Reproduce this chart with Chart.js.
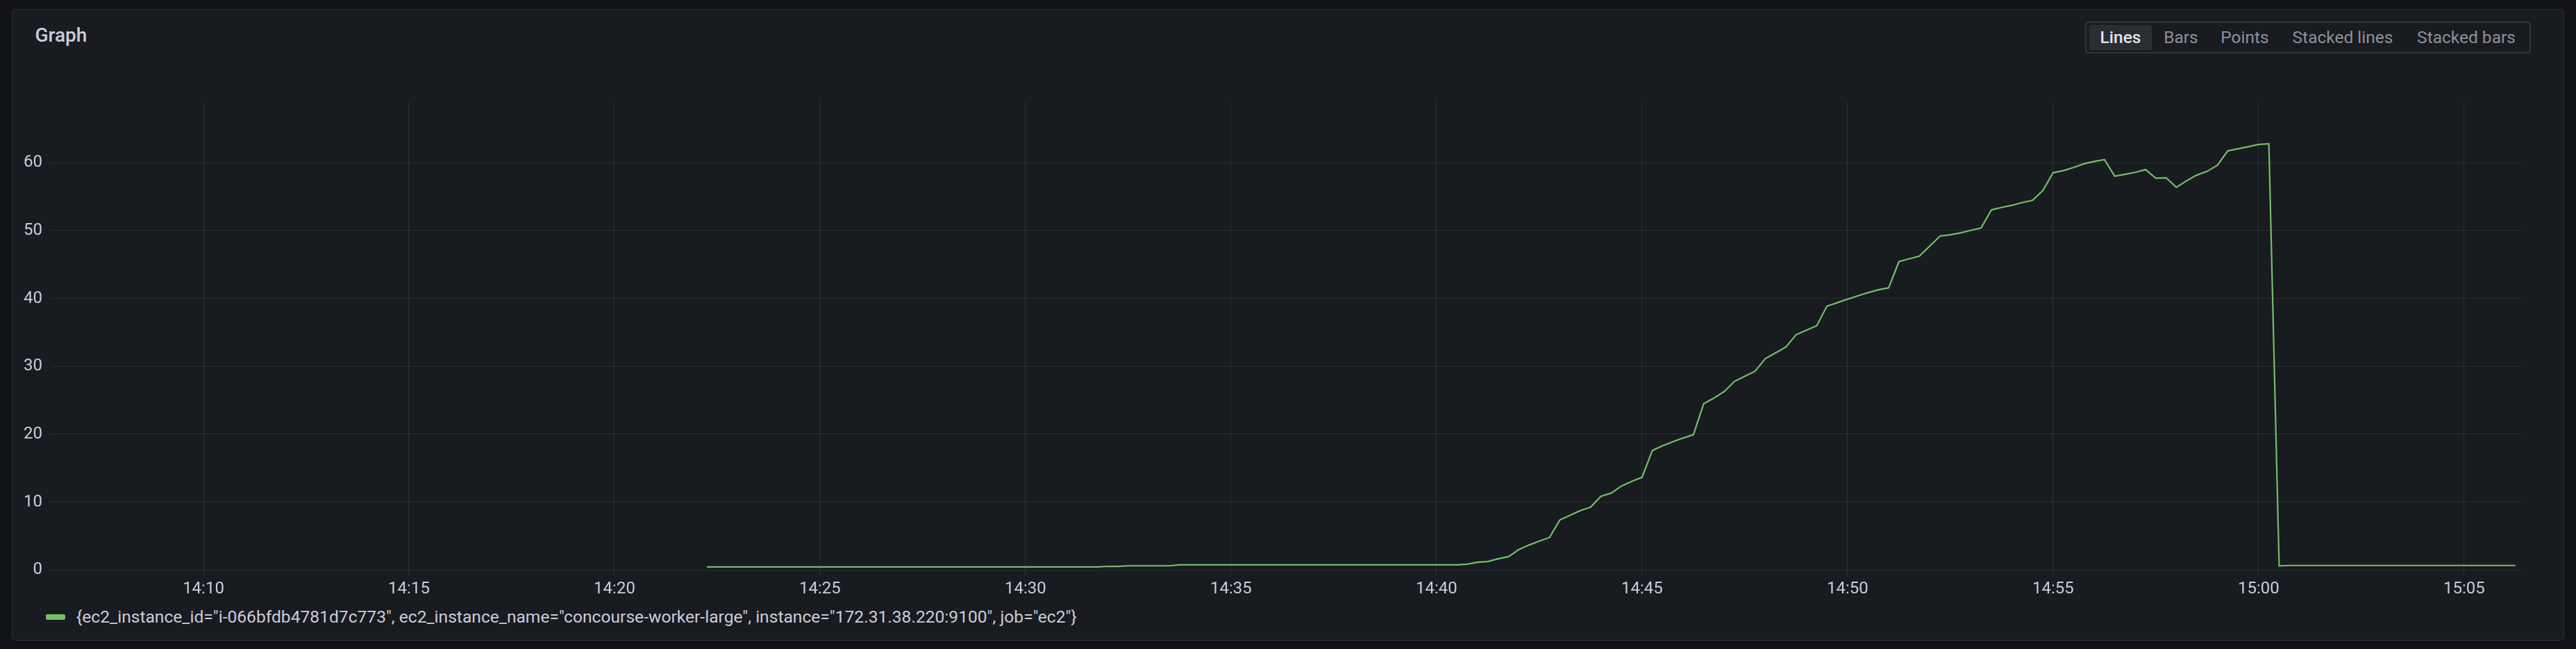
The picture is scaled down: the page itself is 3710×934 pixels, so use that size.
<!DOCTYPE html>
<html>
<head>
<meta charset="utf-8">
<script src="https://cdn.jsdelivr.net/npm/chart.js@4.4.1/dist/chart.umd.min.js"></script>
<style>
  html, body { margin:0; padding:0; width:3710px; height:934px; overflow:hidden; background:#111217; font-family: Roboto, "Noto Sans", sans-serif; }
  #panel { position:absolute; left:16.5px; top:12.5px; width:3676px; height:909px; background:#181b1f; border:1px solid rgba(204,204,220,0.12); border-radius:6px; box-sizing:border-box; }
  #title { position:absolute; left:50.5px; top:37px; font-size:28px; line-height:28px; font-weight:500; color:#ccccdc; white-space:nowrap; }
  #btns { position:absolute; left:3003px; top:31px; width:642px; height:46px; border:2px solid rgba(204,204,220,0.14); border-radius:4px; box-sizing:border-box; }
  #active { position:absolute; left:3009px; top:36px; width:90px; height:36px; background:rgba(204,204,220,0.10); border-radius:3px; }
  .btn { position:absolute; top:40px; font-size:24.5px; line-height:28px; color:rgba(204,204,220,0.68); white-space:nowrap; transform:translateX(-50%); }
  .btn.on { color:#e4e4ee; font-weight:500; }
  #wrap { position:absolute; left:0; top:120px; width:3710px; height:750px; }
  #swatch { position:absolute; left:66px; top:884px; width:28px; height:8px; border-radius:2px; background:#73bf69; }
  #legtext { position:absolute; left:110px; top:874px; font-size:24.6px; line-height:28px; color:#ccccdc; white-space:nowrap; }
</style>
</head>
<body>
<div id="panel"></div>
<div id="title">Graph</div>
<div id="btns"></div>
<div id="active"></div>
<div class="btn on" style="left:3054px">Lines</div>
<div class="btn" style="left:3141px">Bars</div>
<div class="btn" style="left:3233px">Points</div>
<div class="btn" style="left:3374px">Stacked lines</div>
<div class="btn" style="left:3552px">Stacked bars</div>
<div id="wrap"><canvas id="c"></canvas></div>
<div id="swatch"></div>
<div id="legtext"></div>
<script>
// ---- data ----
const seriesName = '{ec2_instance_id="i-066bfdb4781d7c773", ec2_instance_name="concourse-worker-large", instance="172.31.38.220:9100", job="ec2"}';

const times = [
  "14:22:15","14:22:30","14:22:45",
  "14:23:00","14:23:15","14:23:30","14:23:45",
  "14:24:00","14:24:15","14:24:30","14:24:45",
  "14:25:00","14:25:15","14:25:30","14:25:45",
  "14:26:00","14:26:15","14:26:30","14:26:45",
  "14:27:00","14:27:15","14:27:30","14:27:45",
  "14:28:00","14:28:15","14:28:30","14:28:45",
  "14:29:00","14:29:15","14:29:30","14:29:45",
  "14:30:00","14:30:15","14:30:30","14:30:45",
  "14:31:00","14:31:15","14:31:30","14:31:45",
  "14:32:00","14:32:15","14:32:30","14:32:45",
  "14:33:00","14:33:15","14:33:30","14:33:45",
  "14:34:00","14:34:15","14:34:30","14:34:45",
  "14:35:00","14:35:15","14:35:30","14:35:45",
  "14:36:00","14:36:15","14:36:30","14:36:45",
  "14:37:00","14:37:15","14:37:30","14:37:45",
  "14:38:00","14:38:15","14:38:30","14:38:45",
  "14:39:00","14:39:15","14:39:30","14:39:45",
  "14:40:00","14:40:15","14:40:30","14:40:45",
  "14:41:00","14:41:15","14:41:30","14:41:45",
  "14:42:00","14:42:15","14:42:30","14:42:45",
  "14:43:00","14:43:15","14:43:30","14:43:45",
  "14:44:00","14:44:15","14:44:30","14:44:45",
  "14:45:00","14:45:15","14:45:30","14:45:45",
  "14:46:00","14:46:15","14:46:30","14:46:45",
  "14:47:00","14:47:15","14:47:30","14:47:45",
  "14:48:00","14:48:15","14:48:30","14:48:45",
  "14:49:00","14:49:15","14:49:30","14:49:45",
  "14:50:00","14:50:15","14:50:30","14:50:45",
  "14:51:00","14:51:15","14:51:30","14:51:45",
  "14:52:00","14:52:15","14:52:30","14:52:45",
  "14:53:00","14:53:15","14:53:30","14:53:45",
  "14:54:00","14:54:15","14:54:30","14:54:45",
  "14:55:00","14:55:15","14:55:30","14:55:45",
  "14:56:00","14:56:15","14:56:30","14:56:45",
  "14:57:00","14:57:15","14:57:30","14:57:45",
  "14:58:00","14:58:15","14:58:30","14:58:45",
  "14:59:00","14:59:15","14:59:30","14:59:45",
  "15:00:00","15:00:15","15:00:30","15:00:45",
  "15:01:00","15:01:15","15:01:30","15:01:45",
  "15:02:00","15:02:15","15:02:30","15:02:45",
  "15:03:00","15:03:15","15:03:30","15:03:45",
  "15:04:00","15:04:15","15:04:30","15:04:45",
  "15:05:00","15:05:15","15:05:30","15:05:45",
  "15:06:00","15:06:15"
];

const values = [
  0.46,0.46,0.46,
  0.46,0.46,0.46,0.46,
  0.46,0.46,0.46,0.46,
  0.46,0.46,0.46,0.46,
  0.46,0.46,0.46,0.46,
  0.46,0.46,0.46,0.46,
  0.46,0.46,0.46,0.46,
  0.46,0.46,0.46,0.46,
  0.46,0.46,0.46,0.46,
  0.46,0.46,0.46,0.46,
  0.54,0.54,0.62,0.62,
  0.62,0.62,0.62,0.76,
  0.76,0.76,0.76,0.76,
  0.76,0.76,0.76,0.76,
  0.76,0.76,0.76,0.76,
  0.76,0.76,0.76,0.76,
  0.76,0.76,0.76,0.76,
  0.76,0.76,0.76,0.76,
  0.76,0.76,0.76,0.87,
  1.15,1.25,1.65,1.96,
  3.0,3.68,4.26,4.8,
  7.37,8.08,8.76,9.27,
  10.86,11.33,12.38,13.06,
  13.67,17.6,18.3,18.9,
  19.45,19.93,24.5,25.34,
  26.3,27.8,28.55,29.3,
  31.15,32.0,32.85,34.68,
  35.33,36.0,38.88,39.39,
  39.9,40.4,40.87,41.28,
  41.58,45.44,45.85,46.25,
  47.75,49.2,49.4,49.67,
  50.05,50.39,53.06,53.43,
  53.74,54.14,54.48,55.9,
  58.54,58.84,59.32,59.86,
  60.2,60.47,58.03,58.3,
  58.6,59.0,57.73,57.8,
  56.38,57.36,58.2,58.74,
  59.66,61.76,62.06,62.37,
  62.7,62.8,0.6,0.67,
  0.67,0.67,0.67,0.67,
  0.67,0.67,0.67,0.67,
  0.67,0.67,0.67,0.67,
  0.67,0.67,0.67,0.67,
  0.67,0.67,0.67,0.67,
  0.67,0.67
];

const xTickLabels = ["14:10","14:15","14:20","14:25","14:30","14:35","14:40","14:45","14:50","14:55","15:00","15:05"];
const yTickValues = [0,10,20,30,40,50,60];
const xRange = ["14:06:17","15:06:25"];
const yRange = [0, 69];

// ---- helpers ----
function toSec(s) { const p = s.split(':').map(Number); return p[0]*3600 + p[1]*60 + (p[2]||0); }
function fmt(v) { const h = Math.floor(v/3600), m = Math.round((v - h*3600)/60); return h + ':' + String(m).padStart(2,'0'); }

document.getElementById('legtext').textContent = seriesName;

const points = times.map((t,i) => ({x: toSec(t), y: values[i]}));
const gridColor = 'rgba(240,250,255,0.09)';
const tickColor = '#ccccdc';

new Chart(document.getElementById('c'), {
  type: 'line',
  data: { datasets: [{
    label: seriesName,
    data: points,
    borderColor: '#73bf69',
    borderWidth: 2.2,
    pointRadius: 0,
    tension: 0,
    fill: false
  }]},
  options: {
    responsive: true,
    maintainAspectRatio: false,
    animation: false,
    events: [],
    layout: { padding: { top: 20.7, right: 77.3, left: 0, bottom: 0 } },
    plugins: { legend: { display: false }, tooltip: { enabled: false } },
    scales: {
      x: {
        type: 'linear',
        min: toSec(xRange[0]),
        max: toSec(xRange[1]),
        afterBuildTicks: s => { s.ticks = xTickLabels.map(l => ({ value: toSec(l) })); },
        afterFit: s => { s.height = 49.7; },
        grid: { color: gridColor, lineWidth: 1, drawTicks: true, tickLength: 8 },
        border: { display: false },
        ticks: { color: tickColor, font: { family: 'Roboto', size: 24 }, padding: 5, maxRotation: 0, autoSkip: false, callback: v => fmt(v) }
      },
      y: {
        min: yRange[0],
        max: yRange[1],
        afterBuildTicks: s => { s.ticks = yTickValues.map(v => ({ value: v })); },
        afterFit: s => { s.width = 73; },
        grid: { color: gridColor, lineWidth: 1, drawTicks: false },
        border: { display: false },
        ticks: { color: tickColor, font: { family: 'Roboto', size: 24 }, padding: 12, autoSkip: false }
      }
    }
  }
});
</script>
</body>
</html>
